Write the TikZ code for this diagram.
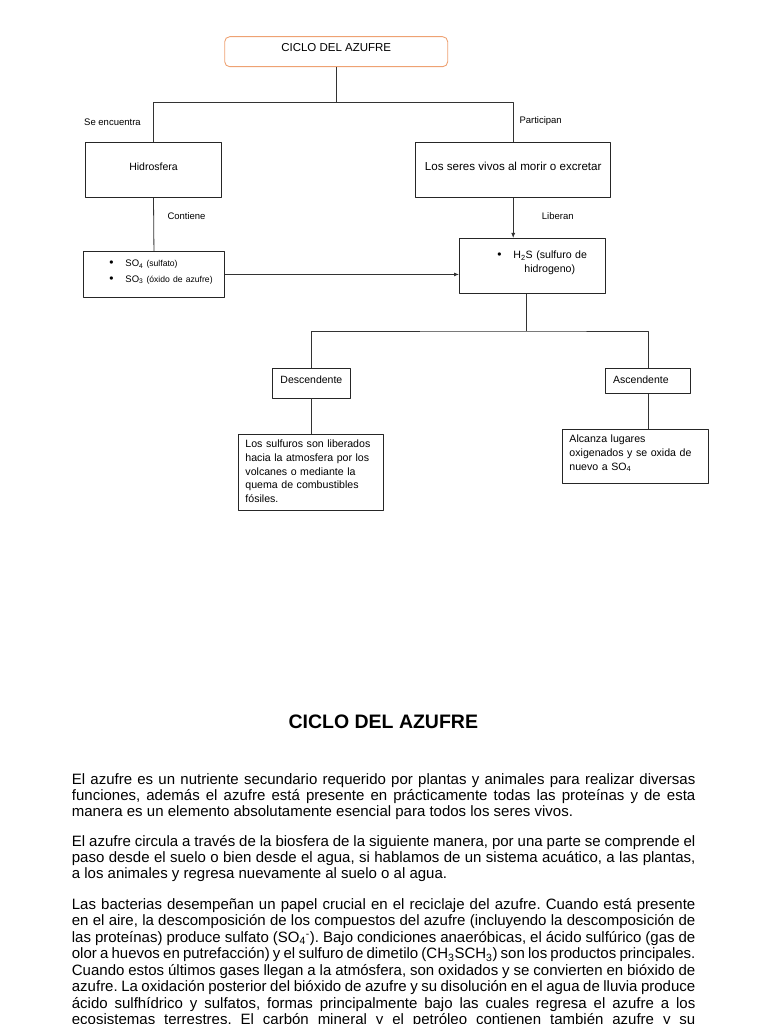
\documentclass[tikz,border=0pt]{standalone}
\usepackage{fontspec}
\setmainfont{Liberation Sans}
\usetikzlibrary{arrows.meta}
\definecolor{bordeazufre}{RGB}{238,162,115}
\newcommand\vineta{\makebox[16pt][l]{\fontsize{12}{12}\selectfont\textbullet}}
\hyphenpenalty=10000
\exhyphenpenalty=10000
\tolerance=9999
\frenchspacing
\begin{document}
\begin{tikzpicture}[x=1pt, y=-1pt, line join=round, >={Latex[length=5pt,width=4pt]},
  box/.style={draw=black!85, line width=0.9pt, inner sep=0pt},
  flat/.style={text height=4pt, text depth=4pt},
  nota/.style={box, anchor=north west, align=left, inner xsep=7pt, inner ysep=4.8pt, text height=8pt, font=\fontsize{10.6}{14}\selectfont},
  link/.style={draw=black!80, line width=0.8pt},
  lbl/.style={anchor=base west, inner sep=0pt, font=\fontsize{9.5}{11}\selectfont},
  para/.style={anchor=base west, inner sep=0pt, text width=623.5pt, align=justify, font=\fontsize{15}{16.43}\selectfont}]
\useasboundingbox (0,0) rectangle (768,1024);
\clip (0,0) rectangle (768,1024);

\node[box, text height=4pt, text depth=3.5pt, draw=bordeazufre, rounded corners=5pt, minimum width=223pt, minimum height=30pt, font=\fontsize{11.5}{13}\selectfont] (ciclo) at (336.2,51.7) {CICLO DEL AZUFRE};
\node[box, text height=5pt, text depth=3.5pt, minimum width=135.6pt, minimum height=55pt, font=\fontsize{10.5}{12}\selectfont] (hid) at (153.5,170.2) {Hidrosfera};
\node[box, flat, minimum width=195pt, minimum height=55pt, font=\fontsize{11.6}{13}\selectfont] (seres) at (513.2,170.2) {Los seres vivos al morir o excretar};
\node[box, anchor=north west, text width=141pt, align=left, inner ysep=7.4pt, text height=8pt, text depth=23.2pt, font=\fontsize{9.5}{15.3}\selectfont] (so) at (83,251)
  {\hspace*{26pt}\vineta SO\textsubscript{4} {\fontsize{8.6}{10}\selectfont(sulfato)}\\
   \hspace*{26pt}\vineta SO\textsubscript{3} {\fontsize{8.6}{10}\selectfont(óxido de azufre)}};
\node[box, anchor=north west, text width=146pt, align=left, inner ysep=12pt, text height=8pt, text depth=23pt, font=\fontsize{10.6}{14}\selectfont] (hs) at (459,238)
  {\hspace*{38pt}\vineta H\textsubscript{2}S (sulfuro de\\
   \hspace*{65pt}hidrogeno)};
\node[box, flat, anchor=north west, text width=62pt, align=left, inner xsep=8pt, minimum height=29.5pt, font=\fontsize{10.5}{12}\selectfont] (desc) at (272,368) {Descendente};
\node[box, anchor=north west, text width=69.6pt, align=left, inner xsep=7.7pt, minimum height=25pt, text height=7pt, text depth=2pt, font=\fontsize{10.5}{12}\selectfont] (asc) at (605,368) {Ascendente};
\node[nota, text width=131pt, text depth=58.4pt, font=\fontsize{10.6}{13.9}\selectfont] (sulf) at (238,434)
  {Los sulfuros son liberados\\hacia la atmosfera por los\\volcanes o mediante la\\quema de combustibles\\fósiles.};
\node[nota, text width=132pt, text depth=36.4pt] (alc) at (562,429)
  {Alcanza lugares\\oxigenados y se oxida de\\nuevo a SO\textsubscript{4}};

\node[lbl] (encuentra) at (84,126) {Se encuentra};
\node[lbl] (participan) at (519.3,124) {Participan};
\node[lbl] (contiene) at (167.3,219.5) {Contiene};
\node[lbl] (liberan) at (541.7,220) {Liberan};

\coordinate (rama) at (ciclo.south |- 0,102.5);
\draw[link] (ciclo.south) -- (rama);
\draw[link] (hid.north) |- (rama) -| (seres.north);
\draw[link] (hid.south) -- (so.north);
\draw[link, ->] (seres.south) -- (seres.south |- hs.north);
\draw[link, ->] (so.east) -- (so.east -| hs.west);
\coordinate (bifurca) at (526,331);
\draw[link] (bifurca |- hs.south) -- (bifurca);
\draw[link] (desc.north) |- (bifurca) -| (asc.north);
\draw[link] (desc.south) -- (desc.south |- sulf.north);
\draw[link] (asc.south) -- (asc.south |- alc.north);

\node[anchor=base, inner sep=0pt, font=\bfseries\fontsize{19.5}{24}\selectfont] (titulo) at (383.3,728.3) {CICLO DEL AZUFRE};
\node[para] (p1) at (71.7,784) {El azufre es un nutriente secundario requerido por plantas y animales para realizar diversas\linebreak funciones, además el azufre está presente en prácticamente todas las proteínas y de esta\linebreak manera es un elemento absolutamente esencial para todos los seres vivos.};
\node[para] (p2) at (71.7,846) {El azufre circula a través de la biosfera de la siguiente manera, por una parte se comprende el\linebreak paso desde el suelo o bien desde el agua, si hablamos de un sistema acuático, a las plantas,\linebreak a los animales y regresa nuevamente al suelo o al agua.};
\node[para] (p3) at (71.7,909.5) {Las bacterias desempeñan un papel crucial en el reciclaje del azufre. Cuando está presente\linebreak en el aire, la descomposición de los compuestos del azufre (incluyendo la descomposición de\linebreak las proteínas) produce sulfato (SO\textsubscript{4}\textsuperscript{-}). Bajo condiciones anaeróbicas, el ácido sulfúrico (gas de\linebreak olor a huevos en putrefacción) y el sulfuro de dimetilo (CH\textsubscript{3}SCH\textsubscript{3}) son los productos principales.\linebreak Cuando estos últimos gases llegan a la atmósfera, son oxidados y se convierten en bióxido de\linebreak azufre. La oxidación posterior del bióxido de azufre y su disolución en el agua de lluvia produce\linebreak ácido sulfhídrico y sulfatos, formas principalmente bajo las cuales regresa el azufre a los\linebreak ecosistemas terrestres. El carbón mineral y el petróleo contienen también azufre y su\linebreak\mbox{}};
\end{tikzpicture}
\end{document}
